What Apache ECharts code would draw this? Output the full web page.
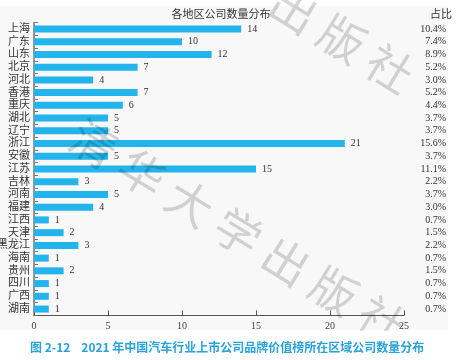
<!DOCTYPE html>
<html><head><meta charset="utf-8">
<script src="https://cdn.jsdelivr.net/npm/echarts@6/dist/echarts.min.js"></script>
<style>html,body{margin:0;padding:0;background:#fff}#c{width:458px;height:360px}</style>
</head><body><div id="c"></div>
<script>
const regions = ['上海','广东','山东','北京','河北','香港','重庆','湖北','辽宁','浙江','安徽','江苏','吉林','河南','福建','江西','天津','黑龙江','海南','贵州','四川','广西','湖南'];
const counts = [14,10,12,7,4,7,6,5,5,21,5,15,3,5,4,1,2,3,1,2,1,1,1];
const shares = ['10.4%','7.4%','8.9%','5.2%','3.0%','5.2%','4.4%','3.7%','3.7%','15.6%','3.7%','11.1%','2.2%','3.7%','3.0%','0.7%','1.5%','2.2%','0.7%','1.5%','0.7%','0.7%','0.7%'];
const xTicks = [0,5,10,15,20,25];
const chartTitle = '各地区公司数量分布';
const shareTitle = '占比';
const caption = '图 2-12    2021 年中国汽车行业上市公司品牌价值榜所在区域公司数量分布';
const watermark = '清华大学出版社';

const serif = '"Liberation Serif","Noto Sans CJK SC",serif';
const wmFont = '46px "Noto Sans CJK SC",sans-serif';
const chart = echarts.init(document.getElementById('c'));
chart.setOption({
  animation:false,
  backgroundColor:'#ffffff',
  graphic:[
    {type:'rect', z:-10, shape:{x:0,y:6,width:448,height:324}, style:{fill:'#f8f8f8'}},
    {type:'text', z:100, x:238, y:232, originX:0, originY:0, rotation:-0.55,
      style:{text:watermark.split('').join(' '), fill:'rgba(0,0,0,0.16)', font:wmFont, align:'center', verticalAlign:'middle'}},
    {type:'text', z:100, x:246, y:-20, originX:0, originY:0, rotation:-0.55,
      style:{text:watermark.split('').join(' '), fill:'rgba(0,0,0,0.16)', font:wmFont, align:'center', verticalAlign:'middle'}},
    {type:'rect', z:101, shape:{x:0,y:331,width:458,height:29}, style:{fill:'#ffffff'}},
    {type:'text', z:102, left:30, top:341, style:{text:caption, fill:'#2aa3dc', font:'bold 12px "Noto Sans CJK SC",sans-serif'}}
  ],
  title:[
    {text:chartTitle, left:216, top:5, textAlign:'center', textStyle:{fontSize:11, fontWeight:'normal', color:'#333', fontFamily:serif}},
    {text:shareTitle, left:436, top:5, textAlign:'center', textStyle:{fontSize:11, fontWeight:'normal', color:'#333', fontFamily:serif}}
  ],
  grid:{left:34, right:54, top:22.6, bottom:44.6, containLabel:false, outerBoundsMode:'none'},
  xAxis:{type:'value', min:xTicks[0], max:xTicks[xTicks.length-1], interval:5,
    axisLine:{show:true, lineStyle:{color:'#555'}},
    axisTick:{show:true, inside:true, length:5, lineStyle:{color:'#555'}},
    splitLine:{show:false},
    axisLabel:{fontSize:10, color:'#444', margin:6, fontFamily:serif}},
  yAxis:[
    {type:'category', data:regions, inverse:true,
      axisLine:{show:true, lineStyle:{color:'#777', width:1.5}},
      axisTick:{show:true, inside:true, length:4, lineStyle:{color:'#777'}},
      axisLabel:{interval:0, fontSize:11, color:'#333', margin:4, fontFamily:serif}},
    {type:'category', data:shares, inverse:true, position:'right',
      axisLine:{show:false}, axisTick:{show:false},
      axisLabel:{interval:0, fontSize:10, color:'#333', margin:42, align:'right', fontFamily:serif}}
  ],
  series:[{type:'bar', data:counts, barWidth:7, yAxisIndex:0,
    itemStyle:{color:'#22b4ea'},
    label:{show:true, position:'right', distance:6, fontSize:10, color:'#333', fontFamily:serif}}]
});
</script></body></html>
